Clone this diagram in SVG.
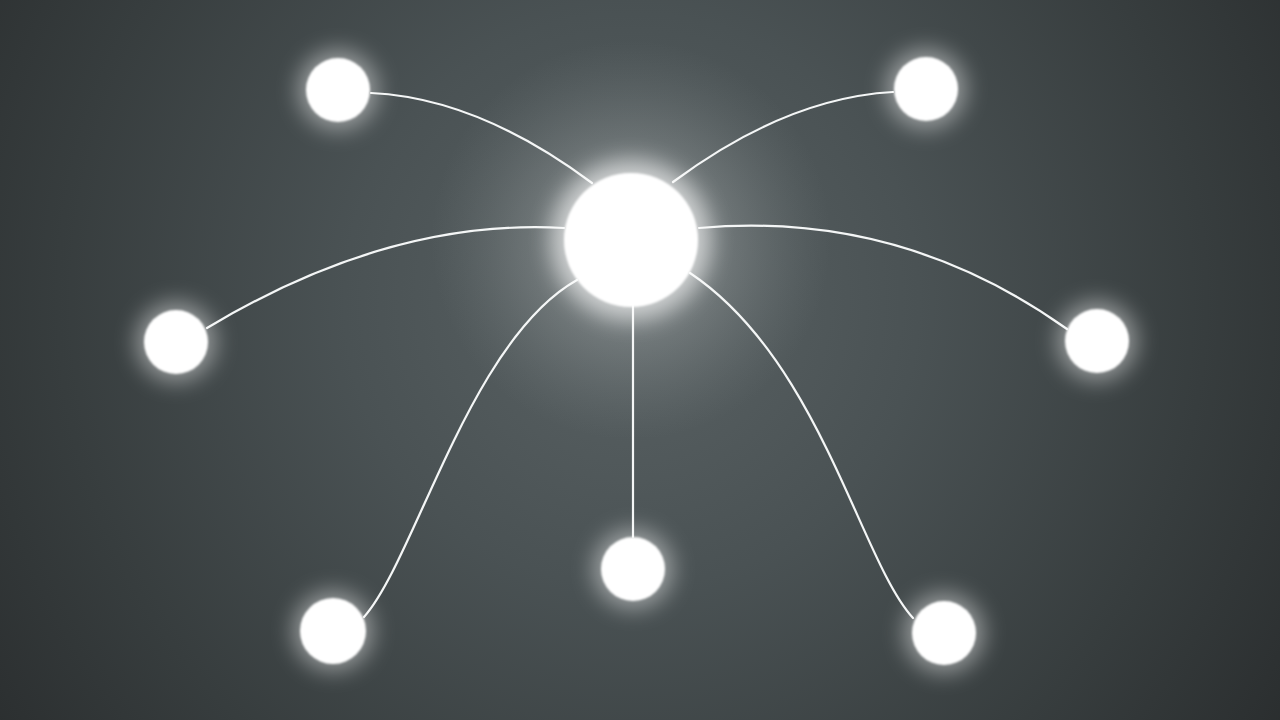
<svg xmlns="http://www.w3.org/2000/svg" width="1280" height="720" viewBox="0 0 1280 720">
  <defs>
    <radialGradient id="bg" cx="632" cy="300" r="820" gradientUnits="userSpaceOnUse">
      <stop offset="0" stop-color="#5a6264"/>
      <stop offset="0.35" stop-color="#4a5254"/>
      <stop offset="0.7" stop-color="#373d3e"/>
      <stop offset="1" stop-color="#282b2c"/>
    </radialGradient>
    <radialGradient id="hubHalo" cx="0.5" cy="0.5" r="0.5">
      <stop offset="0" stop-color="#ffffff" stop-opacity="0.55"/>
      <stop offset="0.45" stop-color="#d8dcdc" stop-opacity="0.22"/>
      <stop offset="1" stop-color="#9aa2a3" stop-opacity="0"/>
    </radialGradient>
    <filter id="soft" x="-60%" y="-60%" width="220%" height="220%">
      <feGaussianBlur stdDeviation="11"/>
    </filter>
    <filter id="edge" x="-20%" y="-20%" width="140%" height="140%">
      <feGaussianBlur stdDeviation="1.2"/>
    </filter>
    <filter id="lineGlow" filterUnits="userSpaceOnUse" x="0" y="0" width="1280" height="720">
      <feGaussianBlur stdDeviation="0.6"/>
    </filter>
  </defs>
  <style>
    .halo { fill: #ffffff; opacity: 0.45; filter: url(#soft); }
    .sat { fill: #ffffff; filter: url(#edge); }
    .link { fill: none; stroke: #f4f6f6; stroke-width: 2.2; stroke-linecap: round; }
  </style>

  <rect width="1280" height="720" fill="url(#bg)"/>
  <circle cx="631" cy="240" r="200" fill="url(#hubHalo)"/>

  <g id="connectors" filter="url(#lineGlow)">
    <path class="link" d="M592,183 Q478,98 371,93"/>
    <path class="link" d="M673,182 Q786,98 893,92"/>
    <path class="link" d="M564,228 Q390,218 207,328"/>
    <path class="link" d="M699,228 Q900,210 1067,329"/>
    <path class="link" d="M577,280 C470,340 415,560 364,617"/>
    <path class="link" d="M633,306 L633,537"/>
    <path class="link" d="M690,273 C820,360 860,560 913,618"/>
  </g>

  <g id="hub">
    <circle cx="631" cy="240" r="80" fill="#ffffff" opacity="0.6" filter="url(#soft)"/>
    <circle cx="631" cy="240" r="67" fill="#ffffff" filter="url(#edge)"/>
  </g>

  <g id="node-top-left">
    <circle class="halo" cx="338" cy="90" r="40"/>
    <circle class="sat" cx="338" cy="90" r="32"/>
  </g>
  <g id="node-top-right">
    <circle class="halo" cx="926" cy="89" r="40"/>
    <circle class="sat" cx="926" cy="89" r="32"/>
  </g>
  <g id="node-left">
    <circle class="halo" cx="176" cy="342" r="40"/>
    <circle class="sat" cx="176" cy="342" r="32"/>
  </g>
  <g id="node-right">
    <circle class="halo" cx="1097" cy="341" r="40"/>
    <circle class="sat" cx="1097" cy="341" r="32"/>
  </g>
  <g id="node-bottom-left">
    <circle class="halo" cx="333" cy="631" r="40"/>
    <circle class="sat" cx="333" cy="631" r="33"/>
  </g>
  <g id="node-bottom">
    <circle class="halo" cx="633" cy="569" r="40"/>
    <circle class="sat" cx="633" cy="569" r="32"/>
  </g>
  <g id="node-bottom-right">
    <circle class="halo" cx="944" cy="633" r="40"/>
    <circle class="sat" cx="944" cy="633" r="32"/>
  </g>
</svg>
